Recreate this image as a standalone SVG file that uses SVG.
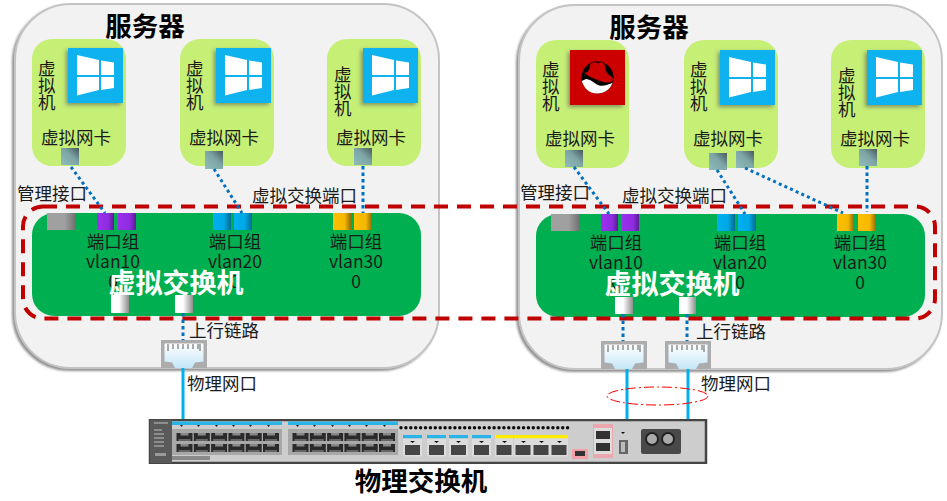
<svg xmlns="http://www.w3.org/2000/svg" xmlns:xlink="http://www.w3.org/1999/xlink" width="947" height="501" viewBox="0 0 947 501">
<style>
text{font-family:"Noto Sans CJK SC","Noto Sans",sans-serif;font-size:17.5px;fill:#1a1a1a}
.h{font-size:26.500px;font-weight:700;fill:#000;text-anchor:middle}
.m{text-anchor:middle}
.w{font-size:27px;font-weight:700;fill:#fff;text-anchor:middle}
.srv{fill:#f2f2f2;stroke:#c4c4c4;stroke-width:2;filter:url(#ss)}
.vm{fill:#c6ef76}
.sw{fill:#00b050}
.dot{fill:none;stroke:#0070c0;stroke-width:3;stroke-dasharray:3 3.200}
.dot2{fill:none;stroke:#0070c0;stroke-width:3;stroke-dasharray:3.500 3}
.up{fill:none;stroke:#00b0f0;stroke-width:3}
</style>
<defs>
<filter id="ss" x="-5%" y="-5%" width="110%" height="110%"><feDropShadow dx="-2" dy="2" stdDeviation="1" flood-color="#777" flood-opacity=".8"/></filter>
<filter id="ls" x="-20%" y="-20%" width="140%" height="140%"><feDropShadow dx="-2" dy="2" stdDeviation="2" flood-color="#555" flood-opacity=".6"/></filter>
<filter id="bl" x="-2%" y="-2%" width="104%" height="104%"><feGaussianBlur stdDeviation=".6"/></filter>
<linearGradient id="gNic" x1="0" y1="1" x2="1" y2="0"><stop offset="0" stop-color="#8fbcbc"/><stop offset=".55" stop-color="#7ea5a6"/><stop offset="1" stop-color="#47585c"/></linearGradient>
<linearGradient id="gGray"><stop offset="0" stop-color="#a0a0a0"/><stop offset=".6" stop-color="#a0a0a0"/><stop offset="1" stop-color="#6e6e6e"/></linearGradient>
<linearGradient id="gPur"><stop offset="0" stop-color="#9b30ee"/><stop offset=".65" stop-color="#8f2ce0"/><stop offset="1" stop-color="#5b1c92"/></linearGradient>
<linearGradient id="gBlu"><stop offset="0" stop-color="#00b0f0"/><stop offset=".6" stop-color="#00a8e6"/><stop offset="1" stop-color="#046a90"/></linearGradient>
<linearGradient id="gOrg"><stop offset="0" stop-color="#ffc000"/><stop offset=".65" stop-color="#f5b800"/><stop offset="1" stop-color="#8f6c06"/></linearGradient>
<linearGradient id="gWht"><stop offset="0" stop-color="#fff"/><stop offset=".45" stop-color="#fff"/><stop offset="1" stop-color="#8c8c8c"/></linearGradient>
<linearGradient id="gRj" x1="0" y1="0" x2="0" y2="1"><stop offset="0" stop-color="#fff"/><stop offset="1" stop-color="#c4e6f8"/></linearGradient>
<g id="win">
<rect width="55" height="55" fill="#0bb2ee" filter="url(#ls)"/>
<path fill="#fff" d="M9 7L31 12V27H9ZM33 12.500L46 14.500V27H33ZM9 29H31V42L9 47.500ZM33 29H46V40L33 42Z"/>
</g>
<g id="rh">
<rect width="55" height="55" fill="#cc0000" filter="url(#ls)"/>
<circle cx="27.500" cy="27.500" r="16" fill="#000"/>
<path fill="#fff" d="M11.800 31C14 39 20 43.500 27.500 43.500C34 43.500 40 39.500 42.500 33C36 35 33 37 28 35C24 33 20 29 16 29Z"/>
<path fill="#cc0000" stroke="#000" stroke-width=".6" d="M14 22C18 23 19 20 20 14C22 11 26 12 28 13C31 11 34 12 35 15C36 19 36 22 38 24C42 26 44 29 43 31C40 34 33 33 27 30C22 28 16 26 14 22Z"/>
</g>
<g id="rj">
<rect width="46" height="28" fill="#acacac"/>
<path fill="url(#gRj)" d="M3.500 3.500H42.500V21.500L34 22.500L31 28H14L11 22.500L3.500 21.500Z"/>
<path fill="none" stroke="#333" stroke-width=".8" d="M7 4V11M12 4V9M17 4V9M22 4V9M27 4V9M32 4V9M37 4V9M39 4V11"/>
</g>
<g id="rp"><rect width="16" height="8" fill="#2c2c2c"/><path fill="#888" d="M4 0H12V2.500H4Z"/><rect x="2" y="6" width="12" height="2" fill="#666"/></g>
<g id="rp6"><use xlink:href="#rp"/><use xlink:href="#rp" x="17.300"/><use xlink:href="#rp" x="34.600"/><use xlink:href="#rp" x="51.900"/><use xlink:href="#rp" x="69.200"/><use xlink:href="#rp" x="86.500"/></g>
<g id="rg"><rect y="7.500" width="110" height="26" fill="#a8a8a8"/><rect width="110" height="3.500" fill="#29b4e6"/><path d="M8 3.500H11L9.500 5.500ZM25 3.500H28L26.500 5.500ZM43 3.500H46L44.500 5.500ZM60 3.500H63L61.500 5.500ZM77 3.500H80L78.500 5.500ZM95 3.500H98L96.500 5.500Z" fill="#222"/><use xlink:href="#rp6" x="4.500" y="11.500"/><use xlink:href="#rp6" x="4.500" y="22.500"/></g>
<g id="sp"><rect width="19" height="3.500" fill="#29b4e6"/><rect y="3.500" width="19" height="18" fill="#dcdcdc"/><rect x="2" y="10" width="15" height="10" fill="#444"/><path d="M7 6H12L9.500 8Z" fill="#111"/></g>
<g id="sy"><rect width="18" height="3.500" fill="#ffec00"/><rect y="3.500" width="18" height="18" fill="#dcdcdc"/><rect x="1.500" y="10" width="15" height="10" fill="#444"/><path d="M7 6H12L9.500 8Z" fill="#111"/></g>
</defs>

<rect width="947" height="501" fill="#fff"/>

<g id="server-left">
<rect class="srv" x="15" y="4" width="424" height="364" rx="56"/>
<text class="h" x="145" y="36">服务器</text>
</g>
<g id="server-right">
<rect class="srv" x="519" y="5" width="423" height="364" rx="56"/>
<text class="h" x="649" y="37">服务器</text>
</g>

<g id="vm-l1">
<rect class="vm" x="32" y="39" width="94" height="127" rx="20"/>
<use xlink:href="#win" x="68" y="48"/>
<text x="38" y="75">虚</text><text x="38" y="92">拟</text><text x="38" y="109">机</text>
<text x="41" y="144">虚拟网卡</text>
<rect x="61" y="148" width="18" height="17" fill="url(#gNic)"/>
</g>
<g id="vm-l2">
<rect class="vm" x="180" y="39" width="94" height="127" rx="20"/>
<use xlink:href="#win" x="216" y="48"/>
<text x="186" y="75">虚</text><text x="186" y="92">拟</text><text x="186" y="109">机</text>
<text x="189" y="144">虚拟网卡</text>
<rect x="205" y="151" width="18" height="18" fill="url(#gNic)"/>
</g>
<g id="vm-l3">
<rect class="vm" x="327" y="39" width="94" height="127" rx="20"/>
<use xlink:href="#win" x="363" y="48"/>
<text x="334" y="81">虚</text><text x="334" y="98">拟</text><text x="334" y="115">机</text>
<text x="336" y="144">虚拟网卡</text>
<rect x="354" y="148" width="18" height="17" fill="url(#gNic)"/>
</g>
<g id="vm-r1">
<rect class="vm" x="536" y="40" width="93" height="128" rx="20"/>
<use xlink:href="#rh" x="570" y="50"/>
<text x="542" y="76">虚</text><text x="542" y="93">拟</text><text x="542" y="110">机</text>
<text x="545" y="145">虚拟网卡</text>
<rect x="565" y="150" width="18" height="17" fill="url(#gNic)"/>
</g>
<g id="vm-r2">
<rect class="vm" x="684" y="40" width="94" height="128" rx="20"/>
<use xlink:href="#win" x="720" y="50"/>
<text x="690" y="76">虚</text><text x="690" y="93">拟</text><text x="690" y="110">机</text>
<text x="693" y="145">虚拟网卡</text>
<rect x="709" y="153" width="18" height="17" fill="url(#gNic)"/>
<rect x="736" y="151" width="18" height="17" fill="url(#gNic)"/>
</g>
<g id="vm-r3">
<rect class="vm" x="831" y="40" width="94" height="128" rx="20"/>
<use xlink:href="#win" x="867" y="50"/>
<text x="838" y="82">虚</text><text x="838" y="99">拟</text><text x="838" y="116">机</text>
<text x="840" y="145">虚拟网卡</text>
<rect x="859" y="149" width="18" height="17" fill="url(#gNic)"/>
</g>

<g id="vswitch-left">
<rect class="sw" x="32" y="213" width="389" height="103" rx="22"/>
<rect x="47" y="213" width="29" height="17" fill="url(#gGray)"/>
<rect x="97" y="213" width="17" height="17" fill="url(#gPur)"/>
<rect x="118" y="213" width="18" height="17" fill="url(#gPur)"/>
<rect x="213" y="213" width="18" height="17" fill="url(#gBlu)"/>
<rect x="234" y="213" width="18" height="17" fill="url(#gBlu)"/>
<rect x="333" y="213" width="18" height="17" fill="url(#gOrg)"/>
<rect x="354" y="213" width="18" height="17" fill="url(#gOrg)"/>
<text class="m" x="113" y="248">端口组</text><text class="m" x="113" y="268">vlan10</text><text class="m" x="113" y="288">0</text>
<text class="m" x="235" y="248">端口组</text><text class="m" x="235" y="268">vlan20</text><text class="m" x="235" y="288">0</text>
<text class="m" x="356" y="248">端口组</text><text class="m" x="356" y="268">vlan30</text><text class="m" x="356" y="288">0</text>
<text class="w" x="176" y="293">虚拟交换机</text>
<rect x="111" y="295" width="18" height="18" fill="url(#gWht)"/>
<rect x="175" y="295" width="18" height="18" fill="url(#gWht)"/>
</g>
<g id="vswitch-right">
<rect class="sw" x="536" y="214" width="389" height="103" rx="22"/>
<rect x="551" y="214" width="29" height="17" fill="url(#gGray)"/>
<rect x="601" y="214" width="17" height="17" fill="url(#gPur)"/>
<rect x="622" y="214" width="17" height="17" fill="url(#gPur)"/>
<rect x="717" y="214" width="18" height="17" fill="url(#gBlu)"/>
<rect x="738" y="214" width="18" height="17" fill="url(#gBlu)"/>
<rect x="837" y="214" width="17" height="17" fill="url(#gOrg)"/>
<rect x="858" y="214" width="18" height="17" fill="url(#gOrg)"/>
<text class="m" x="616" y="249">端口组</text><text class="m" x="616" y="269">vlan10</text><text class="m" x="616" y="289">0</text>
<text class="m" x="740" y="249">端口组</text><text class="m" x="740" y="269">vlan20</text><text class="m" x="740" y="289">0</text>
<text class="m" x="860" y="249">端口组</text><text class="m" x="860" y="269">vlan30</text><text class="m" x="860" y="289">0</text>
<text class="w" x="672" y="294">虚拟交换机</text>
<rect x="615" y="297" width="18" height="17" fill="url(#gWht)"/>
<rect x="679" y="297" width="17" height="17" fill="url(#gWht)"/>
</g>

<rect id="dvs" x="23" y="206.500" width="912" height="112" rx="20" fill="none" stroke="#c00000" stroke-width="4" stroke-dasharray="14 9"/>

<g id="nic-left"><use xlink:href="#rj" x="161" y="340"/></g>
<g id="nic-right-1"><use xlink:href="#rj" x="601" y="341"/></g>
<g id="nic-right-2"><use xlink:href="#rj" x="665" y="341"/></g>

<g id="connectors">
<path class="dot" d="M71 167L105 213"/>
<path class="dot" d="M214 169L242 213"/>
<path class="dot2" d="M363 166V213"/>
<path class="dot" d="M574 167L609 214"/>
<path class="dot" d="M717 170L745 214"/>
<path class="dot" d="M745 168L843 213"/>
<path class="dot2" d="M867 166V212"/>
<path class="dot2" d="M183 313V340"/>
<path class="dot2" d="M623 314V341"/>
<path class="dot2" d="M687 314V341"/>
<path class="up" d="M183 368V419"/>
<path class="up" d="M627 369V419"/>
<path class="up" d="M688 369V419"/>
</g>

<ellipse id="bond" cx="657.500" cy="396" rx="50.500" ry="9" fill="none" stroke="#f00" stroke-width="1" stroke-dasharray="10 3 2 3"/>

<g id="labels">
<text x="17" y="200">管理接口</text>
<text x="252" y="202">虚拟交换端口</text>
<text x="520" y="199">管理接口</text>
<text x="622" y="202">虚拟交换端口</text>
<text x="189" y="337">上行链路</text>
<text x="187" y="390">物理网口</text>
<text x="696" y="338">上行链路</text>
<text x="701" y="390">物理网口</text>
</g>

<g id="physical-switch">
<g filter="url(#bl)">
<rect x="150" y="420" width="556" height="43" fill="#cdcdcd" stroke="#444" stroke-width="2.500"/>
<rect x="150" y="420" width="22" height="43" fill="#5a5a5a"/>
<path stroke="#a0a0a0" stroke-width="1.500" d="M154 423H168M154 430H162M154 434H164M154 438H164M154 442H164M154 446H164"/>
<rect x="155" y="453" width="11" height="3" fill="#999"/>
<use xlink:href="#rg" x="172" y="421.500"/>
<use xlink:href="#rg" x="288" y="421.500"/>
<rect x="172" y="456" width="38" height="4" fill="#8a8a8a"/>
<path stroke="#111" stroke-width="3.500" stroke-linecap="round" stroke-dasharray="0 4.900" d="M401 427.700H571"/>
<use xlink:href="#sp" x="403" y="435"/>
<use xlink:href="#sp" x="427" y="435"/>
<use xlink:href="#sp" x="449" y="435"/>
<use xlink:href="#sp" x="472" y="435"/>
<use xlink:href="#sy" x="495" y="435"/>
<use xlink:href="#sy" x="514" y="435"/>
<use xlink:href="#sy" x="532" y="435"/>
<use xlink:href="#sy" x="550" y="435"/>
<rect x="572" y="449" width="16" height="10" fill="#f2a0a8"/><rect x="575" y="451" width="10" height="5" fill="#333"/>
<rect x="593" y="424" width="20" height="34" fill="#eaa8ae"/>
<rect x="594" y="428" width="18" height="26" fill="#ddd"/>
<rect x="596" y="431" width="14" height="8" fill="#333"/><rect x="596" y="443" width="14" height="8" fill="#333"/>
<rect x="619" y="440" width="9" height="14" fill="#666"/><rect x="621" y="442" width="4" height="10" fill="#bbb"/>
<path d="M621 432H625L623 434Z" fill="#111"/>
<rect x="641" y="429" width="40" height="25" rx="2" fill="#4a4a4a"/>
<circle cx="652" cy="439" r="6" fill="#aaa" stroke="#222" stroke-width="2"/>
<circle cx="668" cy="439" r="6" fill="#aaa" stroke="#222" stroke-width="2"/>
</g>
</g>
<text class="h" x="421" y="491">物理交换机</text>
</svg>
